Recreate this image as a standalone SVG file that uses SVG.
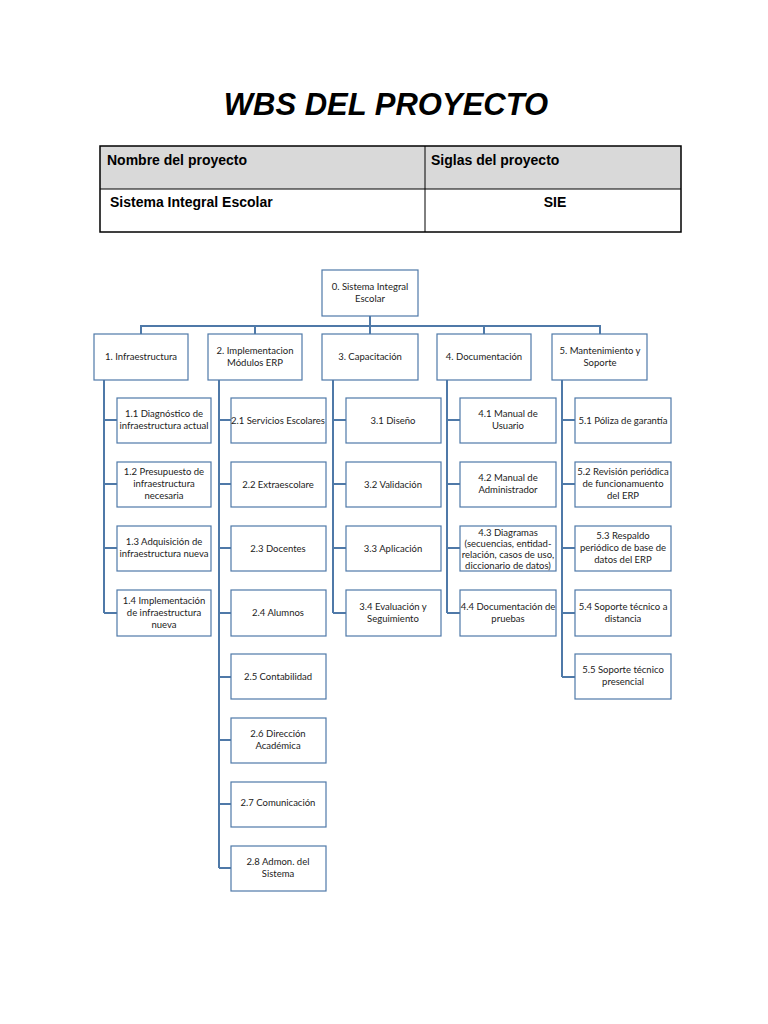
<svg xmlns="http://www.w3.org/2000/svg" width="768" height="1024" viewBox="0 0 768 1024">
<style>
.b{fill:#fff;stroke:#4f79a8;stroke-width:1.2}
.c{stroke:#4f79a8;stroke-width:2;fill:none}
.t{font-family:Lato,"Liberation Sans",sans-serif;font-size:9.5px;fill:#222;text-anchor:middle}
.h{font-family:"Liberation Sans",Arial,sans-serif;font-size:14px;font-weight:bold;fill:#000}
</style>
<rect width="768" height="1024" fill="#fff"/>
<text x="386" y="115" text-anchor="middle" font-family="Liberation Sans,Arial,sans-serif" font-size="31" font-weight="bold" font-style="italic">WBS DEL PROYECTO</text>
<g id="table">
<rect x="100" y="146" width="581" height="43" fill="#d9d9d9"/>
<rect x="100" y="146" width="581" height="86" fill="none" stroke="#000" stroke-width="1.5"/>
<line x1="100" y1="189" x2="681" y2="189" stroke="#000"/>
<line x1="425" y1="146" x2="425" y2="232" stroke="#000"/>
<text class="h" x="107" y="165">Nombre del proyecto</text>
<text class="h" x="431" y="165">Siglas del proyecto</text>
<text class="h" x="110" y="207">Sistema Integral Escolar</text>
<text class="h" x="555" y="207" text-anchor="middle">SIE</text>
</g>
<g id="connectors" class="c">
<path d="M370 316V326M141 334V326H600V334M255 326V334M370 326V334M484 326V334"/>
<path d="M104 380V613M104 420H117M104 484H117M104 548H117M104 613H117"/>
<path d="M219 380V868M219 420H231M219 484H231M219 548H231M219 613H231M219 677H231M219 740H231M219 804H231M219 868H231"/>
<path d="M333 380V613M333 420H346M333 484H346M333 548H346M333 613H346"/>
<path d="M447 380V613M447 420H460M447 484H460M447 548H460M447 613H460"/>
<path d="M562 380V677M562 420H575M562 484H575M562 548H575M562 613H575M562 677H575"/>
</g>
<g id="n0"><rect class="b" x="322" y="270" width="96" height="46"/><text class="t" x="370" y="290">0. Sistema Integral</text><text class="t" x="370" y="302">Escolar</text></g>
<g id="n1"><rect class="b" x="94" y="334" width="94" height="46"/><text class="t" x="141" y="360">1. Infraestructura</text></g>
<g id="n2"><rect class="b" x="208" y="334" width="94" height="46"/><text class="t" x="255" y="354">2. Implementacion</text><text class="t" x="255" y="366">Módulos ERP</text></g>
<g id="n3"><rect class="b" x="322" y="334" width="96" height="46"/><text class="t" x="370" y="360">3. Capacitación</text></g>
<g id="n4"><rect class="b" x="437" y="334" width="94" height="46"/><text class="t" x="484" y="360">4. Documentación</text></g>
<g id="n5"><rect class="b" x="552" y="334" width="95" height="46"/><text class="t" x="600" y="354">5. Mantenimiento y</text><text class="t" x="600" y="366">Soporte</text></g>

<g id="n1-1"><rect class="b" x="117" y="398" width="94" height="45"/><text class="t" x="164" y="417">1.1 Diagnóstico de</text><text class="t" x="164" y="429">infraestructura actual</text></g>
<g id="n1-2"><rect class="b" x="117" y="462" width="94" height="45"/><text class="t" x="164" y="475">1.2 Presupuesto de</text><text class="t" x="164" y="487">infraestructura</text><text class="t" x="164" y="499">necesaria</text></g>
<g id="n1-3"><rect class="b" x="117" y="526" width="94" height="45"/><text class="t" x="164" y="545">1.3 Adquisición de</text><text class="t" x="164" y="557">infraestructura nueva</text></g>
<g id="n1-4"><rect class="b" x="117" y="590" width="94" height="46"/><text class="t" x="164" y="604">1.4 Implementación</text><text class="t" x="164" y="616">de infraestructura</text><text class="t" x="164" y="628">nueva</text></g>

<g id="n2-1"><rect class="b" x="231" y="398" width="95" height="45"/><text class="t" x="278" y="424">2.1 Servicios Escolares</text></g>
<g id="n2-2"><rect class="b" x="231" y="462" width="95" height="45"/><text class="t" x="278" y="488">2.2 Extraescolare</text></g>
<g id="n2-3"><rect class="b" x="231" y="526" width="95" height="45"/><text class="t" x="278" y="552">2.3 Docentes</text></g>
<g id="n2-4"><rect class="b" x="231" y="590" width="95" height="46"/><text class="t" x="278" y="616">2.4 Alumnos</text></g>
<g id="n2-5"><rect class="b" x="231" y="654" width="95" height="45"/><text class="t" x="278" y="680">2.5 Contabilidad</text></g>
<g id="n2-6"><rect class="b" x="231" y="718" width="95" height="45"/><text class="t" x="278" y="737">2.6 Dirección</text><text class="t" x="278" y="749">Académica</text></g>
<g id="n2-7"><rect class="b" x="231" y="782" width="95" height="45"/><text class="t" x="278" y="806">2.7 Comunicación</text></g>
<g id="n2-8"><rect class="b" x="231" y="846" width="95" height="45"/><text class="t" x="278" y="865">2.8 Admon. del</text><text class="t" x="278" y="877">Sistema</text></g>

<g id="n3-1"><rect class="b" x="346" y="398" width="95" height="45"/><text class="t" x="393" y="424">3.1 Diseño</text></g>
<g id="n3-2"><rect class="b" x="346" y="462" width="95" height="45"/><text class="t" x="393" y="488">3.2 Validación</text></g>
<g id="n3-3"><rect class="b" x="346" y="526" width="95" height="45"/><text class="t" x="393" y="552">3.3 Aplicación</text></g>
<g id="n3-4"><rect class="b" x="346" y="590" width="95" height="46"/><text class="t" x="393" y="610">3.4 Evaluación y</text><text class="t" x="393" y="622">Seguimiento</text></g>

<g id="n4-1"><rect class="b" x="460" y="398" width="96" height="45"/><text class="t" x="508" y="417">4.1 Manual de</text><text class="t" x="508" y="429">Usuario</text></g>
<g id="n4-2"><rect class="b" x="460" y="462" width="96" height="45"/><text class="t" x="508" y="481">4.2 Manual de</text><text class="t" x="508" y="493">Administrador</text></g>
<g id="n4-3"><rect class="b" x="460" y="526" width="96" height="45"/><text class="t" x="508" y="536">4.3 Diagramas</text><text class="t" x="508" y="547">(secuencias, entidad-</text><text class="t" x="508" y="558">relación, casos de uso,</text><text class="t" x="508" y="569">diccionario de datos)</text></g>
<g id="n4-4"><rect class="b" x="460" y="590" width="96" height="46"/><text class="t" x="508" y="610">4.4 Documentación de</text><text class="t" x="508" y="622">pruebas</text></g>

<g id="n5-1"><rect class="b" x="575" y="398" width="96" height="45"/><text class="t" x="623" y="424">5.1 Póliza de garantía</text></g>
<g id="n5-2"><rect class="b" x="575" y="462" width="96" height="45"/><text class="t" x="623" y="475">5.2 Revisión periódica</text><text class="t" x="623" y="487">de funcionamuento</text><text class="t" x="623" y="499">del ERP</text></g>
<g id="n5-3"><rect class="b" x="575" y="526" width="96" height="45"/><text class="t" x="623" y="539">5.3 Respaldo</text><text class="t" x="623" y="551">periódico de base de</text><text class="t" x="623" y="563">datos del ERP</text></g>
<g id="n5-4"><rect class="b" x="575" y="590" width="96" height="46"/><text class="t" x="623" y="610">5.4 Soporte técnico a</text><text class="t" x="623" y="622">distancia</text></g>
<g id="n5-5"><rect class="b" x="575" y="654" width="96" height="45"/><text class="t" x="623" y="673">5.5 Soporte técnico</text><text class="t" x="623" y="685">presencial</text></g>
</svg>
